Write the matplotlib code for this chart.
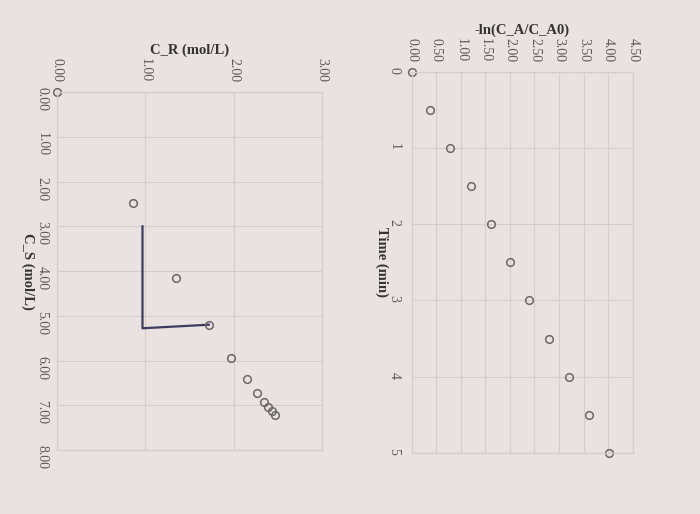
import matplotlib.pyplot as plt

# -ln(C_A/C_A0) against time (photo is rotated 90 deg, so drawn sideways)
time_min = [0, 0.5, 1, 1.5, 2, 2.5, 3, 3.5, 4, 4.5, 5]
neg_ln_ca = [0, 0.38, 0.78, 1.20, 1.61, 2.00, 2.39, 2.80, 3.20, 3.60, 4.01]

# C_R against C_S
c_s = [0, 2.47, 4.15, 5.20, 5.94, 6.42, 6.72, 6.92, 7.04, 7.12, 7.22]
c_r = [0, 0.86, 1.35, 1.72, 1.97, 2.15, 2.26, 2.34, 2.39, 2.43, 2.47]

# the drawn line in the lower chart
line_c_s = [3.0, 5.28, 5.20]
line_c_r = [0.97, 0.97, 1.72]

ln_ticks = [0, 0.5, 1, 1.5, 2, 2.5, 3, 3.5, 4, 4.5]
time_ticks = [0, 1, 2, 3, 4, 5]
cr_ticks = [0, 1, 2, 3]
cs_ticks = [0, 1, 2, 3, 4, 5, 6, 7, 8]

paper = '#e9e2e0'
grid_col = '#d3cdcb'
tick_col = '#5e5a5a'
title_col = '#343232'
mark_col = '#6c6868'

plt.rcParams['font.family'] = ['Liberation Serif', 'DejaVu Serif']

fig = plt.figure(figsize=(7, 5.14), dpi=100, facecolor=paper)


def setup(ax, xticks, yticks, xfmt, yfmt, ypad):
    ax.set_facecolor('none')
    ax.xaxis.tick_top()
    ax.xaxis.set_label_position('top')
    ax.set_xticks(xticks)
    ax.set_xticklabels([xfmt.format(v) for v in xticks], rotation=270)
    ax.set_yticks(yticks)
    ax.set_yticklabels([yfmt.format(v) for v in yticks], rotation=270)
    ax.tick_params(length=0, labelsize=10, colors=tick_col)
    ax.tick_params(axis='x', pad=7)
    ax.tick_params(axis='y', pad=ypad)
    ax.grid(True, color=grid_col, linewidth=0.8)
    ax.set_axisbelow(True)
    for s in ax.spines.values():
        s.set_color(grid_col)
        s.set_linewidth(0.9)


# upper chart (right side of photo)
ax1 = fig.add_axes([0.588, 0.119, 0.316, 0.741])
ax1.plot(neg_ln_ca, time_min, 'o', mfc='none', mec=mark_col, ms=5.5, mew=1.1, clip_on=False)
ax1.set_xlim(0, 4.5)
ax1.set_ylim(5, 0)
setup(ax1, ln_ticks, time_ticks, '{:.2f}', '{:d}', 8)
ax1.set_xlabel('-ln(C_A/C_A0)', fontsize=10.5, fontweight='bold', color=title_col, labelpad=3)
ax1.set_ylabel('Time (min)', fontsize=10.5, fontweight='bold', color=title_col,
               rotation=270, labelpad=-1, va='top')

# lower chart (left side of photo)
ax2 = fig.add_axes([0.081, 0.1245, 0.379, 0.6965])
ax2.plot(line_c_r, line_c_s, color='#3d3a62', linewidth=1.6)
ax2.plot(c_r, c_s, 'o', mfc='none', mec=mark_col, ms=5.5, mew=1.1, clip_on=False)
ax2.set_xlim(0, 3)
ax2.set_ylim(8, 0)
setup(ax2, cr_ticks, cs_ticks, '{:.2f}', '{:.2f}', 6)
ax2.set_xlabel('C_R (mol/L)', fontsize=10.5, fontweight='bold', color=title_col, labelpad=3)
ax2.set_ylabel('C_S (mol/L)', fontsize=10.5, fontweight='bold', color=title_col,
               rotation=270, labelpad=0.5, va='top')

fig.savefig('out.png', dpi=100, facecolor=paper)
